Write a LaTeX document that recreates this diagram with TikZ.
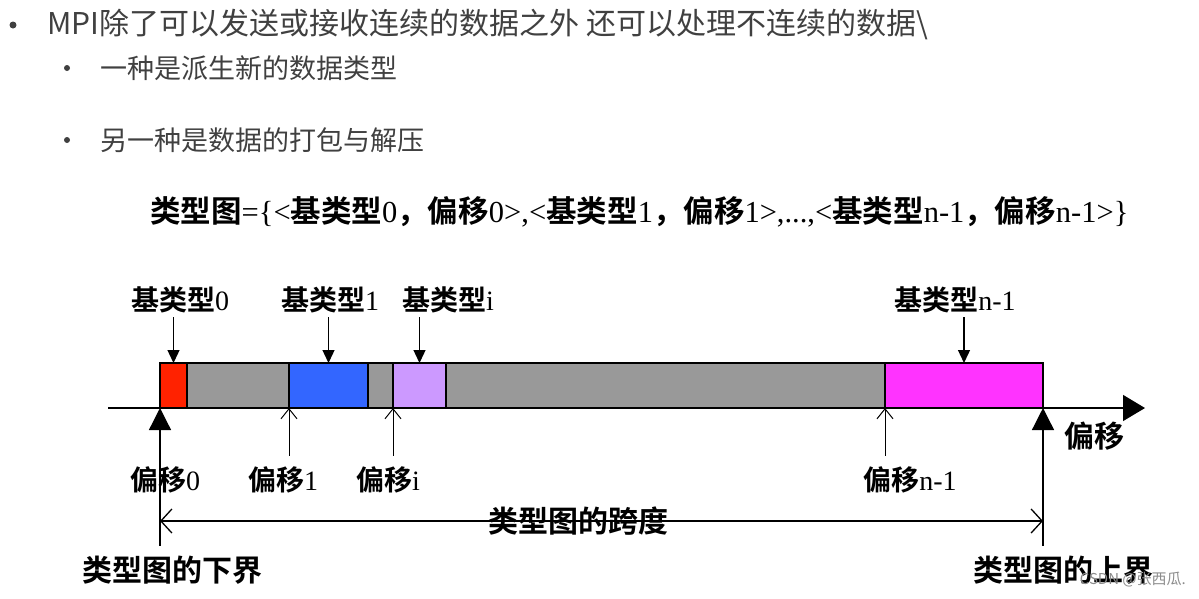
\documentclass[tikz,border=0pt]{standalone}
\usepackage{fontspec}
\setmainfont{Liberation Serif}
\newfontfamily\cjk{Noto Sans CJK SC}
\newfontfamily\cjkb{Noto Sans CJK SC Bold}
\usetikzlibrary{arrows.meta, positioning, calc}
\newcommand{\zh}[1]{{\cjkb #1}}
\definecolor{slidegray}{HTML}{404040}
\definecolor{segred}{HTML}{FF2200}
\definecolor{seggray}{HTML}{999999}
\definecolor{segblue}{HTML}{3366FF}
\definecolor{seglilac}{HTML}{CC99FF}
\definecolor{segpink}{HTML}{FF33FF}

\begin{document}
\begin{tikzpicture}[x=1pt, y=-1pt,
    slide/.style={inner sep=0pt, anchor=west, text=slidegray, font=\cjk\fontsize{27}{30}\selectfont},
    dot/.style={circle, fill=slidegray, inner sep=0pt},
    lbl/.style={inner sep=0pt, font=\fontsize{28}{30}\selectfont},
    big/.style={inner sep=0pt, font=\fontsize{30}{32}\selectfont},
    seg/.style={draw=black, line width=2pt, minimum height=45pt, inner sep=0pt, outer sep=0pt, anchor=south west},
    ptdown/.style={-{Triangle[length=13pt,width=12pt]}, line width=1.3pt},
    ptup/.style={-{Straight Barb[length=10pt,width=16pt]}, line width=1pt},
    boundarr/.style={-{Triangle[length=22pt,width=22pt]}, line width=1.3pt},
    axisarr/.style={-{Triangle[length=22pt,width=26pt]}, line width=1.3pt},
    spanline/.style={{Straight Barb[length=11pt,width=24pt]}-{Straight Barb[length=11pt,width=24pt]}, line width=1.3pt}]
    \useasboundingbox (0,0) rectangle (1199,598);

    % slide text
    \node[dot, minimum size=7pt] (d0) at (13,25) {};
    \node[slide, font=\cjk\fontsize{30}{32}\selectfont] (l0) at (47,24) {MPI除了可以发送或接收连续的数据之外 还可以处理不连续的数据\textbackslash};
    \node[dot, minimum size=6pt] (d1) at (67,68) {};
    \node[slide] (l1) at (100,68) {一种是派生新的数据类型};
    \node[dot, minimum size=6pt] (d2) at (67,140) {};
    \node[slide] (l2) at (100,140) {另一种是数据的打包与解压};

    \node[inner sep=0pt, anchor=west, font=\fontsize{30.5}{32}\selectfont] (tm) at (150,212)
        {\zh{类型图}=\{<\zh{基类型}0\zh{，偏移}0>,<\zh{基类型}1\zh{，偏移}1>,...,<\zh{基类型}n-1\zh{，偏移}n-1>\}};

    % axis
    \coordinate (ax0) at (108,408);
    \coordinate (ax1) at (1145,408);
    \draw[axisarr] (ax0) -- (ax1);
    \node[big, anchor=west] (axl) at (1064,436) {\zh{偏移}};

    % segments of the type map
    \node[seg, fill=segred, minimum width=27pt] (b0) at (160,408) {};
    \node[seg, fill=seggray, minimum width=102pt, right=0pt of b0] (g0) {};
    \node[seg, fill=segblue, minimum width=79pt, right=0pt of g0] (b1) {};
    \node[seg, fill=seggray, minimum width=25pt, right=0pt of b1] (g1) {};
    \node[seg, fill=seglilac, minimum width=53pt, right=0pt of g1] (bi) {};
    \node[seg, fill=seggray, minimum width=439pt, right=0pt of bi] (g2) {};
    \node[seg, fill=segpink, minimum width=158pt, right=0pt of g2] (bn) {};

    % base types
    \node[lbl] (t0) at (180,300) {\zh{基类型}0};
    \node[lbl] (t1) at (330,300) {\zh{基类型}1};
    \node[lbl] (ti) at (448,300) {\zh{基类型}i};
    \node[lbl] (tn) at (955,300) {\zh{基类型}n-1};
    \draw[ptdown] ($(t0.south -| b0.north)+(0,4)$) -- (b0.north);
    \draw[ptdown] ($(t1.south -| b1.north)+(0,4)$) -- (b1.north);
    \draw[ptdown] ($(ti.south -| bi.north)+(0,4)$) -- (bi.north);
    \draw[ptdown] ($(tn.south -| bn.north)+(0,4)$) -- (bn.north);

    % offsets
    \node[lbl] (o0) at (165,480) {\zh{偏移}0};
    \node[lbl] (o1) at (283,480) {\zh{偏移}1};
    \node[lbl] (oi) at (388,480) {\zh{偏移}i};
    \node[lbl] (on) at (910,480) {\zh{偏移}n-1};
    \draw[ptup] ($(o1.north -| b1.south west)+(0,-11)$) -- (b1.south west);
    \draw[ptup] ($(oi.north -| bi.south west)+(0,-11)$) -- (bi.south west);
    \draw[ptup] ($(on.north -| bn.south west)+(0,-11)$) -- (bn.south west);

    % bounds and extent
    \node[big] (lo) at (172,570) {\zh{类型图的下界}};
    \node[big] (hi) at (1063,570) {\zh{类型图的上界}};
    \draw[boundarr] ($(lo.north -| b0.south west)+(0,-10)$) -- (b0.south west);
    \draw[boundarr] ($(hi.north -| bn.south east)+(0,-10)$) -- (bn.south east);
    \node[big] (sp) at (578,521) {\zh{类型图的跨度}};
    \draw[spanline] (b0.south west |- sp) -- (bn.south east |- sp);

    \node[inner sep=0pt, anchor=east, text=black!45, font=\cjk\fontsize{15}{16}\selectfont] (wm) at (1186,580) {CSDN @张西瓜.};
\end{tikzpicture}
\end{document}
